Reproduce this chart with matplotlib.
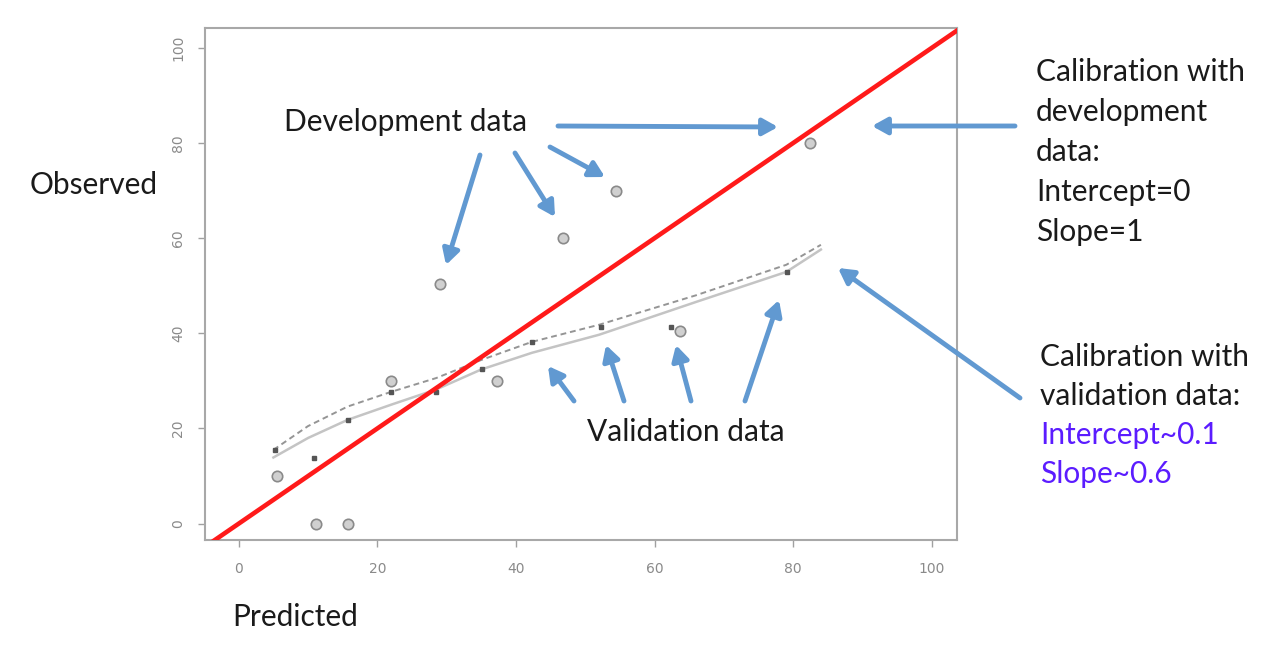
import matplotlib.pyplot as plt

# open circles (observed vs predicted)
dev_x = [5.5, 11.2, 15.8, 22, 29, 37.3, 46.8, 54.4, 63.6, 82.4]
dev_y = [10, 0, 0, 30, 50.4, 30, 60, 70, 40.5, 80]

# small dark points
val_x = [5.2, 10.9, 15.7, 22, 28.5, 35.1, 42.3, 52.2, 62.3, 79.1]
val_y = [15.5, 13.7, 21.8, 27.7, 27.7, 32.4, 38.2, 41.4, 41.4, 52.9]

# calibration curves
curve_x = [5, 10, 15.7, 22, 28.5, 35, 42.3, 52, 66, 79, 84]
dashed_y = [15.5, 20.5, 24.6, 27.7, 30.6, 34.4, 38.2, 41.8, 48, 54.4, 58.6]
solid_y = [13.9, 18, 21.8, 25, 28.2, 32.4, 35.9, 39.7, 46.6, 52.9, 57.6]

ticks = [0, 20, 40, 60, 80, 100]

W, H = 1280, 648
arrow_col = '#6199d1'
txt_col = '#1a1a1a'
font = 'Lato'
fs = 21.5


def fp(x, y):
    # picture pixel (from top-left) -> figure fraction
    return (x / W, 1 - y / H)


fig = plt.figure(figsize=(12.8, 6.48), dpi=100)
ax = fig.add_axes([0.160, 0.167, 0.588, 0.790])

ax.plot(curve_x, solid_y, color='#c4c4c4', lw=1.8, zorder=2)
ax.plot(curve_x, dashed_y, color='#959595', lw=1.4, ls=(0, (3, 2)), zorder=2)
ax.plot(dev_x, dev_y, 'o', ms=7.5, mfc='#d0d0d0', mec='#8a8a8a', mew=1.2, zorder=3)
ax.plot(val_x, val_y, 's', ms=3.5, color='#555555', zorder=3)
ax.plot([-10, 110], [-10, 110], color='#ff1a1a', lw=3.3, zorder=4)

ax.set_xlim(-4.9, 103.7)
ax.set_ylim(-3.4, 104.2)
ax.set_xticks(ticks)
ax.set_yticks(ticks)
for s in ax.spines.values():
    s.set_color('#a8a8a8')
    s.set_linewidth(1.5)
ax.tick_params(colors='#a0a0a0', labelcolor='#8a8a8a', labelsize=10, length=5, width=1)
ax.tick_params(axis='x', pad=11)
ax.tick_params(axis='y', pad=9, labelrotation=90)
for lab in ax.get_yticklabels():
    lab.set_va('center')

# axis titles
fig.text(*fp(30, 185), 'Observed', fontsize=fs, color=txt_col, family=font, va='center')
fig.text(*fp(232, 617), 'Predicted', fontsize=fs, color=txt_col, family=font, va='center')

# annotation texts
fig.text(*fp(284, 122), 'Development data', fontsize=fs, color=txt_col, family=font, va='center')
fig.text(*fp(587, 432), 'Validation data', fontsize=fs, color=txt_col, family=font, va='center')

right_top = ['Calibration with', 'development', 'data:', 'Intercept=0', 'Slope=1']
for i, line in enumerate(right_top):
    fig.text(*fp(1036, 72 + i * 40), line, fontsize=fs, color=txt_col, family=font, va='center')

right_bot = ['Calibration with', 'validation data:', 'Intercept~0.1', 'Slope~0.6']
bot_cols = [txt_col, txt_col, '#5b1cff', '#5b1cff']
for i, line in enumerate(right_bot):
    fig.text(*fp(1040, 357 + i * 39), line, fontsize=fs, color=bot_cols[i], family=font, va='center')

# arrows: (tail, head) in picture pixels
arrows = [
    ((480, 155), (446, 265)),
    ((515, 153), (555, 217)),
    ((550, 147), (605, 177)),
    ((558, 126), (778, 127)),
    ((1015, 126), (872, 126)),
    ((1020, 398), (838, 268)),
    ((574, 401), (548, 366)),
    ((624, 401), (606, 345)),
    ((691, 401), (676, 345)),
    ((745, 401), (779, 300)),
]
for tail, head in arrows:
    fig.add_artist(plt.Annotation(
        '', xy=fp(*head), xytext=fp(*tail),
        xycoords='figure fraction', textcoords='figure fraction',
        arrowprops=dict(arrowstyle='-|>,head_length=0.9,head_width=0.5',
                        color=arrow_col, lw=3.5, shrinkA=0, shrinkB=0)))

fig.savefig('out.png', dpi=100)
